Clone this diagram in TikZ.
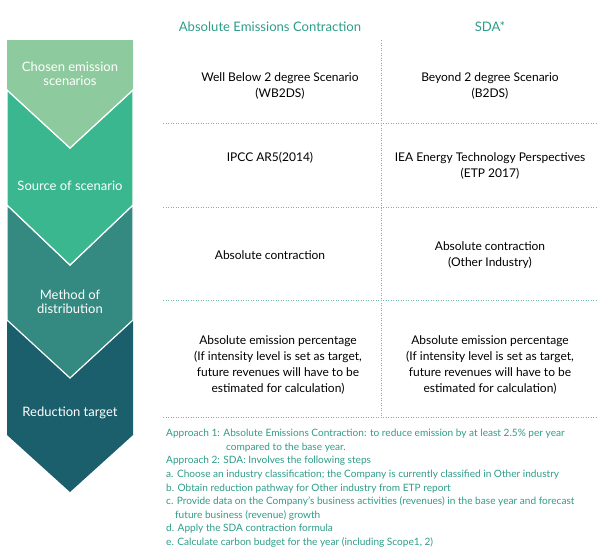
\documentclass[tikz,border=0pt]{standalone}
\usepackage{fontspec}
\setmainfont{Lato}
\begin{document}
\begin{tikzpicture}[x=1pt,y=-1pt,
  lbl/.style={text=white,font=\fontsize{13}{14}\selectfont,align=center},
  cell/.style={text=black,font=\fontsize{12}{16}\selectfont,align=center},
  head/.style={text=teal1,font=\fontsize{13.1}{15}\selectfont},
  dots/.style={teal1!70,line width=0.5pt,dotted},
  chev/.style={draw=white,line width=1.2pt}]
\definecolor{teal1}{HTML}{2E9C88}
\definecolor{c1}{HTML}{8DCB9E}
\definecolor{c2}{HTML}{3BB78F}
\definecolor{c3}{HTML}{348981}
\definecolor{c4}{HTML}{1B5F6C}
\useasboundingbox (0,0) rectangle (600,555);
\fill[c4] (7,320) -- (70,378) -- (133,320) -- (133,435) -- (70,492) -- (7,435) -- cycle;
\filldraw[c3,chev] (7,205) -- (70,265) -- (133,205) -- (133,320) -- (70,378) -- (7,320) -- cycle;
\filldraw[c2,chev] (7,90) -- (70,148) -- (133,90) -- (133,205) -- (70,265) -- (7,205) -- cycle;
\filldraw[c1,chev] (7,40) -- (133,40) -- (133,90) -- (70,148) -- (7,90) -- cycle;
\fill[c1] (7,40) rectangle (133,89);
\node[lbl] (l1) at (70,74) {Chosen emission\\scenarios};
\node[lbl] (l2) at (70,186) {Source of scenario};
\node[lbl] (l3) at (70,302) {Method of\\distribution};
\node[lbl] (l4) at (70,413) {Reduction target};
\node[head] (h1) at (270,27) {Absolute Emissions Contraction};
\node[head] (h2) at (490,27) {SDA*};
\coordinate (vt) at (381,40); \coordinate (vb) at (381,417);
\draw[dots] (vt) -- (vb);
\foreach \y/\n in {123/a,207/b,300/c,417/d}{
  \coordinate (L\n) at (163,\y); \coordinate (R\n) at (598,\y);
  \draw[dots] (L\n) -- (R\n);}
\node[cell] (r1a) at (280,86) {Well Below 2 degree Scenario\\(WB2DS)};
\node[cell] (r1b) at (490,86) {Beyond 2 degree Scenario\\(B2DS)};
\node[cell] (r2a) at (270,158) {IPCC AR5(2014)};
\node[cell] (r2b) at (490,166) {IEA Energy Technology Perspectives\\(ETP 2017)};
\node[cell] (r3a) at (270,255) {Absolute contraction};
\node[cell] (r3b) at (490,255) {Absolute contraction\\(Other Industry)};
\node[cell] (r4a) at (278,365) {Absolute emission percentage\\(If intensity level is set as target,\\future revenues will have to be\\estimated for calculation)};
\node[cell] (r4b) at (490,365) {Absolute emission percentage\\(If intensity level is set as target,\\future revenues will have to be\\estimated for calculation)};
\node[anchor=north west,text=teal1,font=\fontsize{10.1}{13.6}\selectfont,align=left,inner sep=0] (notes) at (166,429) {%
Approach 1: Absolute Emissions Contraction: to reduce emission by at least 2.5\% per year\\
\hspace*{60pt}compared to the base year.\\
Approach 2: SDA: Involves the following steps\\
a. Choose an industry classification; the Company is currently classified in Other industry\\
b. Obtain reduction pathway for Other industry from ETP report\\
c. Provide data on the Company's business activities (revenues) in the base year and forecast\\
\hspace*{9pt}future business (revenue) growth\\
d. Apply the SDA contraction formula\\
e. Calculate carbon budget for the year (including Scope1, 2)};
\end{tikzpicture}
\end{document}
